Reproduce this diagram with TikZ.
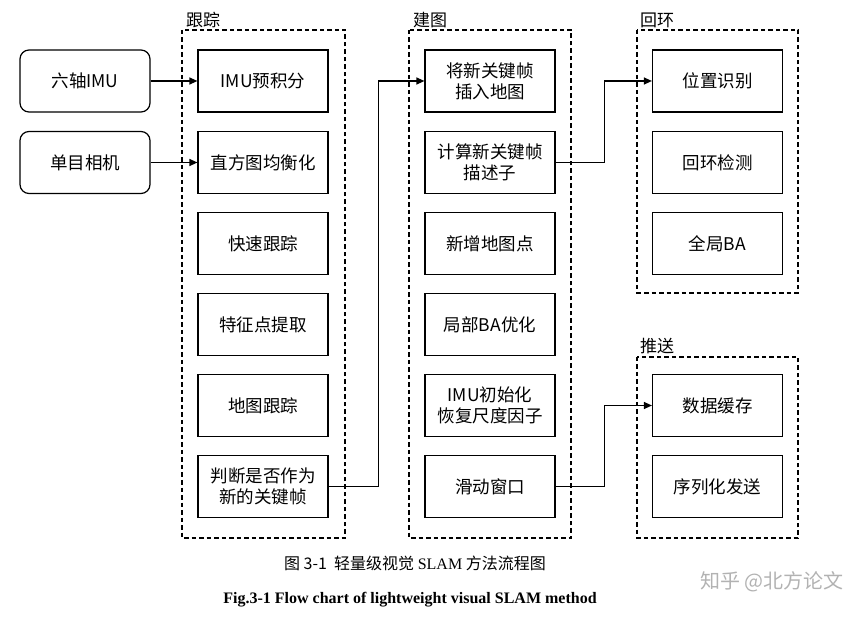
\documentclass[tikz,border=0pt]{standalone}
\usepackage{fontspec}
\setmainfont{Liberation Serif}
\newfontfamily\cjk{Noto Sans CJK SC}
\usetikzlibrary{arrows.meta}
\begin{document}
\begin{tikzpicture}[x=1pt,y=-1pt,
  box/.style={draw,line width=1.2pt,minimum width=130pt,minimum height=62pt,align=center,font=\cjk\fontsize{17.5}{21}\selectfont,inner sep=1pt},
  rbox/.style={box,rounded corners=9pt},
  grp/.style={draw,dash pattern=on 4.5pt off 3pt,line width=1.4pt},
  glabel/.style={anchor=south west,font=\cjk\fontsize{17}{20}\selectfont,inner sep=0pt},
  arr/.style={line width=1.2pt,-{Triangle[length=8pt,width=7pt]}}]
\useasboundingbox (0,0) rectangle (855,620);
\node[rbox] (imu6) at (85,81) {六轴IMU};
\node[rbox] (cam) at (85,162.5) {单目相机};
\draw[grp] (182,30) rectangle (345,538);
\node[glabel] (lt) at (186,28) {跟踪};
\node[box] (t1) at (263,81) {IMU预积分};
\node[box] (t2) at (263,162.5) {直方图均衡化};
\node[box] (t3) at (263,243.5) {快速跟踪};
\node[box] (t4) at (263,324.5) {特征点提取};
\node[box] (t5) at (263,405.5) {地图跟踪};
\node[box] (t6) at (263,486.5) {判断是否作为\\新的关键帧};
\draw[grp] (409,30) rectangle (571,538);
\node[glabel] (lm) at (413,28) {建图};
\node[box] (m1) at (490,81) {将新关键帧\\插入地图};
\node[box] (m2) at (490,162.5) {计算新关键帧\\描述子};
\node[box] (m3) at (490,243.5) {新增地图点};
\node[box] (m4) at (490,324.5) {局部BA优化};
\node[box] (m5) at (490,405.5) {IMU初始化\\恢复尺度因子};
\node[box] (m6) at (490,486.5) {滑动窗口};
\draw[grp] (637,30) rectangle (798,293);
\node[glabel] (ll) at (640,28) {回环};
\node[box] (l1) at (717.5,81) {位置识别};
\node[box] (l2) at (717.5,162.5) {回环检测};
\node[box] (l3) at (717.5,243.5) {全局BA};
\draw[grp] (637,357) rectangle (798,538);
\node[glabel] (lp) at (640,354) {推送};
\node[box] (p1) at (717.5,405.5) {数据缓存};
\node[box] (p2) at (717.5,486.5) {序列化发送};
\draw[arr] (imu6) -- (t1);
\draw[arr] (cam) -- (t2);
\draw[arr] (t6.east) -- ++(50,0) |- (m1.west);
\draw[arr] (m2.east) -- ++(49,0) |- (l1.west);
\draw[arr] (m6.east) -- ++(49,0) |- (p1.west);
\node[font=\cjk\fontsize{16}{19}\selectfont] (cap1) at (415,563) {图 3-1\ \ 轻量级视觉 \textrm{SLAM} 方法流程图};
\node[font=\bfseries\fontsize{16}{19}\selectfont] (cap2) at (410,600) {Fig.3-1 Flow chart of lightweight visual SLAM method};
\node[font=\cjk\fontsize{20}{24}\selectfont,text=black!30] (wm) at (772,582) {知乎 @北方论文};
\end{tikzpicture}
\end{document}
